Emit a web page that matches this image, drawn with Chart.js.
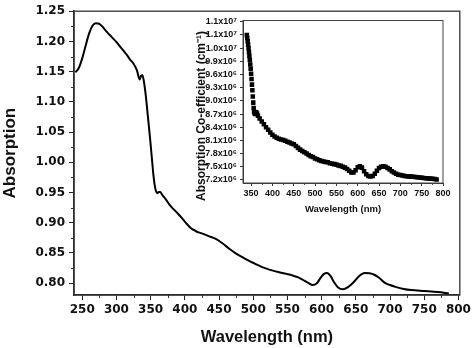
<!DOCTYPE html>
<html lang="en">
<head>
<meta charset="UTF-8">
<title>Absorption spectrum</title>
<script src="https://cdn.jsdelivr.net/npm/chart.js"></script>
<style>
  body { margin: 0; background: #fff; }
  #wrap { position: relative; width: 474px; height: 348px; }
  #main { position: absolute; left: 0; top: 0; }
  #inset { position: absolute; left: 190px; top: 12px; }
</style>
</head>
<body>
<div id="wrap">
  <canvas id="main" width="474" height="348"></canvas>
  <canvas id="inset" width="270" height="210"></canvas>
</div>
<script>
// main spectrum
const wavelength = [240, 245, 250, 255, 260, 265, 270, 275, 280, 285, 290, 295, 300, 305, 310, 315, 320, 325, 330,
  334, 336, 338, 340, 343, 346, 349, 352, 354, 356, 358, 360, 362, 364, 367, 372, 377, 383, 390, 397, 403, 409,
  415, 420, 426, 435, 446, 455, 465, 475, 484, 494, 503, 513, 525, 538, 550, 557, 565, 572, 580, 587, 593, 598,
  603, 608, 613, 618, 624, 631, 638, 647, 655, 663, 670, 677, 684, 692, 700, 708, 720, 731, 751, 770, 786];
const absorption = [1.149, 1.156, 1.172, 1.193, 1.213, 1.226, 1.230, 1.229, 1.224, 1.217, 1.211, 1.205, 1.199, 1.192,
  1.185, 1.178, 1.170, 1.163, 1.152, 1.137, 1.143, 1.144, 1.135, 1.110, 1.076, 1.042, 1.005, 0.980, 0.962, 0.952,
  0.949, 0.951, 0.951, 0.946, 0.939, 0.931, 0.923, 0.915, 0.906, 0.898, 0.891, 0.887, 0.884, 0.882, 0.878, 0.873,
  0.866, 0.857, 0.849, 0.843, 0.837, 0.832, 0.8265, 0.822, 0.818, 0.815, 0.813, 0.810, 0.806, 0.801, 0.797, 0.800,
  0.808, 0.815, 0.817, 0.812, 0.802, 0.793, 0.790, 0.793, 0.802, 0.812, 0.817, 0.8165, 0.814, 0.809, 0.801, 0.797,
  0.794, 0.7905, 0.7886, 0.787, 0.7853, 0.783];
const xTicks = [250, 300, 350, 400, 450, 500, 550, 600, 650, 700, 750, 800];
const yTicks = [0.80, 0.85, 0.90, 0.95, 1.00, 1.05, 1.10, 1.15, 1.20, 1.25];

// inset: absorption co-efficient
const insetWavelength = [340, 341, 342, 343, 344, 345, 346, 347, 348, 349, 350, 351, 352, 353, 354, 355, 356, 357,
  358, 360, 362, 364, 366, 370, 375, 380, 385, 390, 395, 400, 405, 410, 415, 420, 425, 430, 435, 440, 445, 450,
  455, 460, 465, 470, 475, 480, 485, 490, 495, 500, 505, 510, 515, 520, 525, 530, 535, 540, 545, 550, 555, 560,
  565, 570, 575, 580, 585, 590, 595, 600, 605, 610, 615, 620, 625, 630, 635, 640, 645, 650, 655, 660, 665, 670,
  675, 680, 685, 690, 695, 700, 705, 710, 715, 720, 725, 730, 735, 740, 745, 750, 755, 760, 765, 770, 775, 780, 785];
const insetCoeff = [10.50e6, 10.43e6, 10.36e6, 10.28e6, 10.20e6, 10.11e6, 10.02e6, 9.93e6, 9.83e6, 9.73e6, 9.62e6,
  9.50e6, 9.37e6, 9.24e6, 9.10e6, 8.96e6, 8.84e6, 8.76e6, 8.72e6, 8.70e6, 8.74e6, 8.71e6, 8.66e6, 8.60e6, 8.53e6,
  8.47e6, 8.40e6, 8.34e6, 8.28e6, 8.23e6, 8.19e6, 8.16e6, 8.14e6, 8.12e6, 8.11e6, 8.09e6, 8.07e6, 8.05e6, 8.03e6,
  8.01e6, 7.97e6, 7.93e6, 7.89e6, 7.86e6, 7.83e6, 7.80e6, 7.77e6, 7.74e6, 7.72e6, 7.69e6, 7.67e6, 7.65e6, 7.63e6,
  7.62e6, 7.61e6, 7.60e6, 7.58e6, 7.57e6, 7.56e6, 7.55e6, 7.53e6, 7.52e6, 7.50e6, 7.48e6, 7.45e6, 7.41e6, 7.37e6,
  7.37e6, 7.42e6, 7.49e6, 7.51e6, 7.48e6, 7.40e6, 7.33e6, 7.29e6, 7.28e6, 7.29e6, 7.34e6, 7.41e6, 7.47e6, 7.50e6,
  7.51e6, 7.50e6, 7.47e6, 7.44e6, 7.40e6, 7.37e6, 7.34e6, 7.32e6, 7.31e6, 7.30e6, 7.29e6, 7.285e6, 7.28e6, 7.275e6,
  7.27e6, 7.265e6, 7.26e6, 7.255e6, 7.25e6, 7.245e6, 7.24e6, 7.235e6, 7.23e6, 7.225e6, 7.22e6, 7.21e6];
const insetXTicks = [350, 400, 450, 500, 550, 600, 650, 700, 750, 800];
const insetYTicks = [7.2e6, 7.5e6, 7.8e6, 8.1e6, 8.4e6, 8.7e6, 9.0e6, 9.3e6, 9.6e6, 9.9e6, 10.2e6, 10.5e6, 10.8e6];
const insetYLabels = ['7.2x10⁶', '7.5x10⁶', '7.8x10⁶', '8.1x10⁶', '8.4x10⁶', '8.7x10⁶', '9.0x10⁶', '9.3x10⁶',
  '9.6x10⁶', '9.9x10⁶', '1.0x10⁷', '1.1x10⁷', '1.1x10⁷'];

// box round the plot area, minor ticks, and an optional side title
const framePlugin = {
  id: 'frame',
  afterDraw(chart, args, opts) {
    const ctx = chart.ctx, a = chart.chartArea, sx = chart.scales.x, sy = chart.scales.y;
    ctx.save();
    ctx.strokeStyle = opts.color;
    ctx.lineWidth = opts.width;
    ctx.strokeRect(a.left, a.top, a.right - a.left, a.bottom - a.top);
    ctx.lineWidth = 1;
    ctx.beginPath();
    (opts.minorX || []).forEach(v => {
      const px = Math.round(sx.getPixelForValue(v)) + 0.5;
      ctx.moveTo(px, a.bottom);
      ctx.lineTo(px, a.bottom + opts.minorLen);
    });
    (opts.minorY || []).forEach(v => {
      const py = Math.round(sy.getPixelForValue(v)) + 0.5;
      ctx.moveTo(a.left, py);
      ctx.lineTo(a.left - opts.minorLen, py);
    });
    ctx.stroke();
    if (opts.sideTitle) {
      const t = opts.sideTitle;
      ctx.translate(t.x, t.y);
      ctx.rotate(-Math.PI / 2);
      ctx.font = t.font;
      ctx.fillStyle = '#111';
      ctx.textAlign = 'center';
      ctx.textBaseline = 'middle';
      ctx.fillText(t.text, 0, 0);
    }
    ctx.restore();
  }
};

const tickFont = { family: 'DejaVu Sans', weight: 'bold', size: 12 };
const titleFont = { family: 'Liberation Sans', weight: 'bold', size: 16.5 };

new Chart(document.getElementById('main'), {
  type: 'line',
  data: {
    datasets: [{
      data: wavelength.map((w, i) => ({ x: w, y: absorption[i] })),
      borderColor: '#000',
      borderWidth: 2,
      pointRadius: 0,
      cubicInterpolationMode: 'monotone'
    }]
  },
  options: {
    responsive: false,
    animation: false,
    layout: { padding: { left: 0, right: 12, top: 7, bottom: 0 } },
    plugins: {
      legend: { display: false },
      tooltip: { enabled: false },
      frame: {
        color: '#333', width: 1.3, minorLen: 3,
        minorX: xTicks.slice(0, -1).map(v => v + 25),
        minorY: yTicks.slice(0, -1).map(v => v + 0.025)
      }
    },
    scales: {
      x: {
        type: 'linear', min: 238, max: 802,
        afterBuildTicks: s => { s.ticks = xTicks.map(v => ({ value: v })); },
        afterFit: s => { s.height = 53; },
        grid: { drawOnChartArea: false, tickLength: 5, tickColor: '#222', tickWidth: 1 },
        border: { color: '#222', width: 1.5 },
        ticks: { font: tickFont, color: '#111', padding: 3, maxRotation: 0, autoSkip: false },
        title: { display: true, text: 'Wavelength (nm)', font: titleFont, color: '#111', padding: { top: 0, bottom: 1 } }
      },
      y: {
        type: 'linear', min: 0.7805, max: 1.25,
        afterBuildTicks: s => { s.ticks = yTicks.map(v => ({ value: v })); },
        afterFit: s => { s.width = 74; },
        grid: { drawOnChartArea: false, tickLength: 5, tickColor: '#222', tickWidth: 1 },
        border: { color: '#222', width: 1.5 },
        ticks: { font: tickFont, color: '#111', padding: 4, callback: v => v.toFixed(2) },
        title: { display: true, text: 'Absorption', font: { family: 'Liberation Sans', weight: 'bold', size: 17 }, color: '#111', padding: { top: 0, bottom: 0 } }
      }
    }
  },
  plugins: [framePlugin]
});

const insetTick = { family: 'Liberation Sans', weight: 'bold', size: 9 };

new Chart(document.getElementById('inset'), {
  type: 'scatter',
  data: {
    datasets: [{
      data: insetWavelength.map((w, i) => ({ x: w, y: insetCoeff[i] })),
      backgroundColor: '#000',
      borderColor: '#000',
      pointStyle: 'rect',
      pointRadius: 3.2,
      borderWidth: 0
    }]
  },
  options: {
    responsive: false,
    animation: false,
    layout: { padding: { left: 0, right: 17, top: 8.5, bottom: 0 } },
    plugins: {
      legend: { display: false },
      tooltip: { enabled: false },
      frame: {
        color: '#444', width: 1, minorLen: 2,
        minorX: insetXTicks.slice(0, -1).map(v => v + 25),
        sideTitle: { text: 'Absorption Co-efficient (cm⁻¹)', x: 12, y: 104, font: 'bold 12px "Liberation Sans"' }
      }
    },
    scales: {
      x: {
        type: 'linear', min: 331, max: 800,
        afterBuildTicks: s => { s.ticks = insetXTicks.map(v => ({ value: v })); },
        afterFit: s => { s.height = 39; },
        grid: { drawOnChartArea: false, tickLength: 3, tickColor: '#333', tickWidth: 1 },
        border: { color: '#333', width: 1 },
        ticks: { font: insetTick, color: '#111', padding: 2, maxRotation: 0, autoSkip: false },
        title: { display: true, text: 'Wavelength (nm)', font: { family: 'Liberation Sans', weight: 'bold', size: 9.5 }, color: '#111', padding: { top: 0, bottom: 7 } }
      },
      y: {
        type: 'linear', min: 7.13e6, max: 1.083e7,
        afterBuildTicks: s => { s.ticks = insetYTicks.map(v => ({ value: v })); },
        afterFit: s => { s.width = 53; },
        grid: { drawOnChartArea: false, tickLength: 3, tickColor: '#333', tickWidth: 1 },
        border: { color: '#333', width: 1 },
        ticks: { font: insetTick, color: '#111', padding: 3, autoSkip: false, callback: (v, i) => insetYLabels[i] }
      }
    }
  },
  plugins: [framePlugin]
});
</script>
</body>
</html>
